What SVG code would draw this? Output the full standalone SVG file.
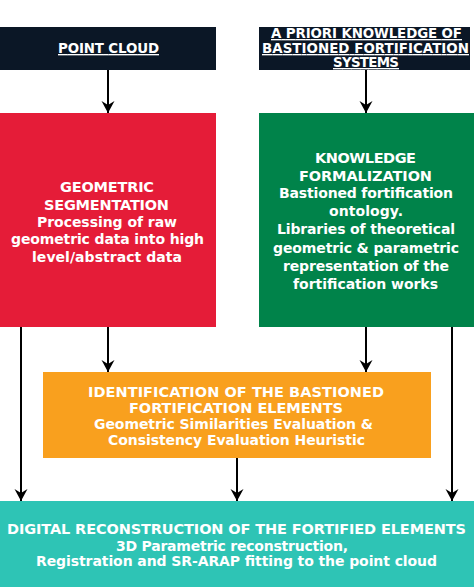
<svg xmlns="http://www.w3.org/2000/svg" width="474" height="587" viewBox="0 0 474 587">
<style>
text{font-family:"DejaVu Sans",Verdana,sans-serif;font-weight:bold;font-size:14px;fill:#ffffff;text-anchor:middle}
.hd{text-decoration:underline;font-size:13.4px}
.up{font-size:14.5px}
.cn{stroke:#000;stroke-width:2;fill:none}
</style>
<defs>
<marker id="ah" markerUnits="userSpaceOnUse" markerWidth="14" markerHeight="14" refX="12" refY="6.5" orient="auto">
<path d="M0,0 L12,6.5 L0,13 L4,6.5 z" fill="#000"/>
</marker>
</defs>
<rect width="474" height="587" fill="#fff"/>
<g id="point-cloud">
<rect x="0" y="27" width="216" height="43" fill="#0b1726"/>
<text class="hd" x="108.5" y="53" textLength="101" lengthAdjust="spacing">POINT CLOUD</text>
</g>
<g id="a-priori">
<rect x="259" y="27" width="211" height="43" fill="#0b1726"/>
<text class="hd" x="366.5" y="38" textLength="191" lengthAdjust="spacing">A PRIORI KNOWLEDGE OF</text>
<text class="hd" x="365.5" y="53" textLength="207" lengthAdjust="spacing">BASTIONED FORTIFICATION</text>
<text class="hd" x="366" y="67" textLength="66" lengthAdjust="spacing">SYSTEMS</text>
</g>
<g id="geometric-segmentation">
<rect x="0" y="113" width="216" height="214" fill="#e51c38"/>
<text class="up" x="107" y="192" textLength="94" lengthAdjust="spacing">GEOMETRIC</text>
<text class="up" x="106.5" y="209.5" textLength="125" lengthAdjust="spacing">SEGMENTATION</text>
<text x="107" y="227" textLength="140" lengthAdjust="spacing">Processing of raw</text>
<text x="107.5" y="244" textLength="193" lengthAdjust="spacing">geometric data into high</text>
<text x="107" y="261.5" textLength="150" lengthAdjust="spacing">level/abstract data</text>
</g>
<g id="knowledge-formalization">
<rect x="259" y="113" width="215" height="214" fill="#00834a"/>
<text class="up" x="365.5" y="162.7" textLength="101" lengthAdjust="spacing">KNOWLEDGE</text>
<text class="up" x="365.5" y="180.7" textLength="133" lengthAdjust="spacing">FORMALIZATION</text>
<text x="366" y="198.3" textLength="174" lengthAdjust="spacing">Bastioned fortification</text>
<text x="366" y="216" textLength="74" lengthAdjust="spacing">ontology.</text>
<text x="366" y="234.3" textLength="178" lengthAdjust="spacing">Libraries of theoretical</text>
<text x="366" y="252.7" textLength="186" lengthAdjust="spacing">geometric &amp; parametric</text>
<text x="366" y="271" textLength="166" lengthAdjust="spacing">representation of the</text>
<text x="365.5" y="289.3" textLength="145" lengthAdjust="spacing">fortification works</text>
</g>
<g id="identification">
<rect x="43" y="372" width="388" height="86" fill="#f9a01e"/>
<text class="up" x="236" y="397" textLength="296" lengthAdjust="spacing">IDENTIFICATION OF THE BASTIONED</text>
<text class="up" x="236" y="413" textLength="214" lengthAdjust="spacing">FORTIFICATION ELEMENTS</text>
<text x="233.5" y="429" textLength="279" lengthAdjust="spacing">Geometric Similarities Evaluation &amp;</text>
<text x="236.5" y="444.5" textLength="257" lengthAdjust="spacing">Consistency Evaluation Heuristic</text>
</g>
<g id="digital-reconstruction">
<rect x="0" y="501" width="474" height="86" fill="#2ec4b5"/>
<text class="up" x="236.5" y="534" textLength="459" lengthAdjust="spacing">DIGITAL RECONSTRUCTION OF THE FORTIFIED ELEMENTS</text>
<text x="232" y="550.5" textLength="232" lengthAdjust="spacing">3D Parametric reconstruction,</text>
<text x="236.5" y="566" textLength="401" lengthAdjust="spacing">Registration and SR-ARAP fitting to the point cloud</text>
</g>
<g id="connectors">
<line class="cn" x1="108" y1="70" x2="108" y2="113" marker-end="url(#ah)"/>
<line class="cn" x1="366" y1="70" x2="366" y2="113" marker-end="url(#ah)"/>
<line class="cn" x1="108" y1="327" x2="108" y2="372" marker-end="url(#ah)"/>
<line class="cn" x1="366" y1="327" x2="366" y2="372" marker-end="url(#ah)"/>
<line class="cn" x1="21" y1="327" x2="21" y2="501" marker-end="url(#ah)"/>
<line class="cn" x1="452" y1="327" x2="452" y2="501" marker-end="url(#ah)"/>
<line class="cn" x1="237" y1="458" x2="237" y2="501" marker-end="url(#ah)"/>
</g>
</svg>
